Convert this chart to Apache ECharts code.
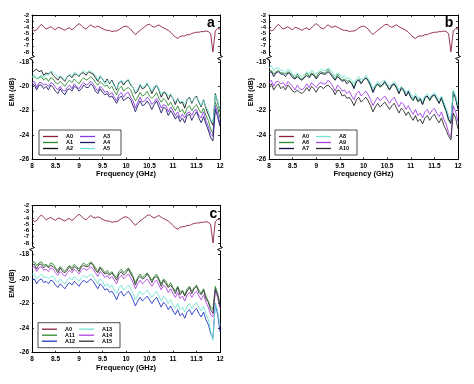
<!DOCTYPE html>
<html><head><meta charset="utf-8">
<script src="https://cdn.jsdelivr.net/npm/echarts@6/dist/echarts.min.js"></script>
<style>html,body{margin:0;padding:0;background:#fff}#c{width:474px;height:384px}</style>
</head><body><div id="c"></div>
<script>
const freq = [8,8.05,8.1,8.15,8.2,8.25,8.3,8.35,8.4,8.45,8.5,8.55,8.6,8.65,8.7,8.75,8.8,8.85,8.9,8.95,9,9.05,9.1,9.15,9.2,9.25,9.3,9.35,9.4,9.45,9.5,9.55,9.6,9.65,9.7,9.75,9.8,9.85,9.9,9.95,10,10.05,10.1,10.15,10.2,10.25,10.3,10.35,10.4,10.45,10.5,10.55,10.6,10.65,10.7,10.75,10.8,10.85,10.9,10.95,11,11.05,11.1,11.15,11.2,11.25,11.3,11.35,11.4,11.45,11.5,11.55,11.6,11.65,11.7,11.75,11.8,11.85,11.9,11.95,12];
const xTicks = [8,8.5,9,9.5,10,10.5,11,11.5,12];
const yTopTicks = [-2,-3,-4,-5,-6,-7,-8];
const yBotTicks = [-26,-24,-22,-20,-18];

const A0 = [-4.2,-4.6,-4.4,-3.9,-3.5,-3.9,-4.3,-4.1,-3.9,-4.2,-4.4,-4.0,-4.1,-4.3,-4.5,-4.2,-4.1,-4.4,-4.1,-3.7,-3.4,-3.7,-4.1,-4.3,-3.9,-3.6,-3.9,-4.0,-3.8,-4.0,-4.2,-4.4,-4.5,-4.5,-4.7,-4.6,-4.6,-4.4,-4.1,-3.9,-3.8,-4.0,-4.3,-4.8,-5.2,-4.8,-4.5,-4.2,-3.9,-3.6,-3.5,-3.8,-4.0,-3.8,-3.6,-3.9,-4.1,-4.3,-4.5,-4.8,-5.2,-5.6,-5.8,-5.5,-5.4,-5.4,-5.2,-5.2,-5.0,-4.9,-4.8,-4.8,-4.7,-4.7,-4.6,-4.7,-5.0,-8.0,-4.6,-4.2,-4.3];
const A1 = [-19.3,-19.2,-19.4,-19.3,-19.2,-19.5,-19.3,-19.6,-19.3,-19.4,-19.7,-19.8,-19.6,-19.8,-20.0,-19.7,-19.5,-19.7,-19.4,-19.6,-19.8,-19.5,-19.3,-19.5,-19.4,-19.2,-19.4,-19.7,-19.9,-19.6,-19.8,-20.0,-19.9,-20.2,-20.0,-20.4,-20.7,-20.2,-20.0,-20.4,-20.2,-20.1,-20.3,-20.8,-21.2,-20.9,-20.5,-20.8,-20.7,-20.4,-20.8,-21.0,-20.8,-20.5,-21.0,-21.3,-21.0,-21.2,-21.6,-21.3,-21.7,-22.0,-21.6,-22.1,-21.9,-22.3,-21.8,-21.6,-22.0,-21.7,-21.5,-21.9,-22.2,-21.8,-22.4,-22.8,-23.5,-23.9,-21.3,-21.8,-22.6];
const A2 = [-18.9,-18.7,-18.6,-18.8,-18.7,-19.1,-18.9,-19.0,-18.8,-19.1,-19.3,-19.5,-19.2,-19.4,-19.6,-19.2,-19.1,-19.3,-19.0,-19.0,-19.2,-18.9,-18.9,-19.1,-18.8,-18.9,-19.0,-19.3,-19.6,-19.2,-19.4,-19.7,-19.4,-19.8,-19.5,-19.9,-20.3,-19.7,-19.6,-19.9,-19.6,-19.5,-19.9,-20.1,-20.6,-20.4,-19.9,-20.2,-20.1,-19.8,-20.1,-20.6,-20.2,-19.9,-20.3,-20.9,-20.5,-20.6,-21.1,-20.7,-21.0,-21.5,-21.0,-21.4,-21.3,-21.8,-21.1,-20.9,-21.4,-21.0,-20.8,-21.3,-21.7,-21.1,-21.8,-22.3,-22.8,-23.2,-20.6,-21.3,-22.1];
const A3 = [-19.7,-19.6,-20.1,-19.7,-19.7,-19.9,-19.8,-20.0,-19.7,-19.8,-20.1,-20.3,-20.0,-20.3,-20.4,-20.1,-19.9,-20.2,-19.8,-20.0,-20.2,-19.9,-19.7,-19.9,-19.8,-19.6,-19.8,-20.1,-20.4,-20.0,-20.2,-20.5,-20.4,-20.7,-20.5,-20.9,-21.2,-20.7,-20.5,-20.9,-20.6,-20.5,-20.9,-21.2,-21.8,-21.3,-20.9,-21.3,-21.2,-20.9,-21.1,-21.5,-21.3,-21.0,-21.3,-21.8,-21.5,-21.6,-22.1,-21.7,-22.0,-22.4,-22.1,-22.6,-22.3,-22.6,-22.2,-22.1,-22.4,-22.0,-21.9,-22.4,-22.6,-22.1,-22.8,-23.3,-23.9,-24.1,-21.6,-22.2,-23.1];
const A4 = [-19.8,-19.9,-20.3,-19.9,-19.9,-20.2,-20.0,-20.3,-19.9,-20.1,-20.4,-20.6,-20.2,-20.5,-20.7,-20.3,-20.2,-20.4,-20.0,-20.1,-20.4,-20.2,-19.9,-20.1,-20.1,-19.8,-20.0,-20.4,-20.6,-20.2,-20.5,-20.7,-20.6,-20.9,-20.8,-21.1,-21.4,-21.0,-20.8,-21.2,-21.0,-20.9,-21.1,-21.6,-22.1,-21.6,-21.2,-21.6,-21.5,-21.2,-21.5,-21.9,-21.5,-21.2,-21.7,-22.2,-21.7,-21.9,-22.4,-22.0,-22.3,-22.7,-22.4,-22.9,-22.6,-23.0,-22.4,-22.3,-22.8,-22.4,-22.1,-22.6,-23.0,-22.5,-23.1,-23.6,-24.2,-24.5,-21.9,-22.5,-23.3];
const A5 = [-19.2,-19.1,-19.4,-19.2,-19.1,-19.3,-19.0,-19.1,-18.8,-18.8,-19.0,-19.3,-19.1,-19.3,-19.5,-19.2,-19.0,-19.2,-18.8,-19.0,-19.1,-18.9,-18.7,-18.9,-18.8,-18.7,-18.9,-19.1,-19.5,-19.1,-19.4,-19.8,-19.5,-19.7,-19.6,-20.0,-20.2,-19.8,-19.5,-19.7,-19.6,-19.4,-19.8,-20.1,-20.5,-20.2,-19.8,-20.1,-20.0,-19.7,-20.1,-20.4,-20.0,-19.9,-20.2,-20.7,-20.4,-20.5,-20.8,-20.6,-21.0,-21.3,-21.0,-21.3,-21.2,-21.5,-21.1,-21.0,-21.3,-21.0,-20.9,-21.2,-21.6,-21.1,-21.7,-22.0,-22.7,-23.0,-20.7,-21.2,-22.0];
const A6 = [-18.8,-18.7,-19.0,-18.8,-18.7,-18.9,-18.9,-19.0,-18.8,-18.9,-19.1,-19.4,-19.0,-19.3,-19.4,-19.2,-18.9,-19.2,-18.9,-19.0,-19.3,-18.9,-18.8,-18.9,-18.9,-18.6,-18.9,-19.1,-19.5,-19.0,-19.3,-19.5,-19.4,-19.6,-19.5,-19.7,-20.1,-19.6,-19.4,-19.7,-19.5,-19.3,-19.6,-20.0,-20.5,-20.1,-19.8,-20.1,-19.9,-19.7,-20.0,-20.3,-20.0,-19.8,-20.2,-20.6,-20.2,-20.4,-20.8,-20.5,-20.9,-21.2,-20.8,-21.3,-21.1,-21.5,-21.0,-20.8,-21.2,-20.9,-20.7,-21.1,-21.4,-21.0,-21.6,-22.1,-22.8,-23.1,-20.6,-21.0,-21.8];
const A7 = [-18.9,-18.8,-19.2,-18.9,-18.8,-19.0,-19.0,-19.2,-18.9,-19.0,-19.3,-19.4,-19.2,-19.4,-19.5,-19.3,-19.1,-19.3,-19.0,-19.1,-19.4,-19.1,-18.9,-19.0,-19.0,-18.8,-19.0,-19.3,-19.5,-19.2,-19.4,-19.6,-19.5,-19.8,-19.6,-19.8,-20.2,-19.6,-19.5,-19.8,-19.5,-19.3,-19.5,-19.9,-20.5,-20.0,-19.8,-20.0,-19.9,-19.6,-19.9,-20.3,-19.9,-19.8,-20.1,-20.6,-20.1,-20.3,-20.8,-20.4,-20.9,-21.1,-20.8,-21.2,-21.0,-21.5,-20.9,-20.8,-21.1,-20.8,-20.7,-21.0,-21.4,-20.9,-21.5,-22.0,-22.7,-23.0,-20.4,-21.0,-21.9];
const A8 = [-18.5,-18.3,-18.7,-18.5,-18.5,-18.7,-18.7,-18.9,-18.6,-18.7,-19.0,-19.2,-18.9,-19.1,-19.2,-19.0,-18.8,-19.0,-18.7,-18.8,-19.0,-18.8,-18.6,-18.7,-18.7,-18.5,-18.6,-18.9,-19.2,-18.9,-19.0,-19.3,-19.1,-19.4,-19.3,-19.5,-19.8,-19.4,-19.2,-19.5,-19.3,-19.1,-19.4,-19.7,-20.2,-19.9,-19.6,-19.9,-19.6,-19.5,-19.8,-20.0,-19.8,-19.6,-19.9,-20.3,-20.0,-20.2,-20.5,-20.3,-20.6,-21.0,-20.6,-21.0,-20.9,-21.2,-20.8,-20.6,-20.9,-20.7,-20.5,-20.8,-21.1,-20.8,-21.3,-21.8,-22.4,-22.7,-20.3,-20.8,-21.6];
const A9 = [-19.7,-19.5,-20.0,-19.6,-19.6,-19.8,-19.7,-20.0,-19.6,-19.8,-20.0,-20.3,-19.9,-20.2,-20.3,-20.1,-19.8,-20.1,-19.7,-19.9,-20.1,-19.8,-19.7,-19.8,-19.8,-19.5,-19.7,-20.0,-20.4,-19.9,-20.1,-20.4,-20.3,-20.6,-20.4,-20.8,-21.1,-20.6,-20.4,-20.8,-20.6,-20.4,-20.7,-21.1,-21.6,-21.2,-20.9,-21.2,-21.0,-20.8,-21.1,-21.4,-21.1,-20.9,-21.3,-21.7,-21.3,-21.5,-21.9,-21.6,-22.0,-22.3,-21.9,-22.4,-22.2,-22.6,-22.1,-21.9,-22.3,-22.0,-21.8,-22.2,-22.5,-22.1,-22.7,-23.1,-23.8,-24.2,-21.6,-22.1,-22.9];
const A10 = [-20.0,-19.8,-20.3,-20.0,-19.8,-20.2,-20.0,-20.3,-19.9,-20.1,-20.4,-20.5,-20.3,-20.5,-20.6,-20.4,-20.1,-20.4,-20.0,-20.2,-20.5,-20.1,-20.0,-20.2,-20.0,-19.9,-20.1,-20.3,-20.7,-20.3,-20.4,-20.8,-20.7,-21.0,-20.9,-21.2,-21.6,-21.1,-20.9,-21.3,-21.1,-20.9,-21.2,-21.6,-22.1,-21.7,-21.4,-21.7,-21.5,-21.3,-21.6,-21.9,-21.6,-21.4,-21.8,-22.2,-21.8,-22.0,-22.4,-22.1,-22.5,-22.8,-22.4,-22.9,-22.7,-23.1,-22.6,-22.4,-22.8,-22.5,-22.3,-22.7,-23.0,-22.6,-23.2,-23.6,-24.1,-24.4,-22.2,-22.6,-23.5];
const A11 = [-18.7,-18.6,-18.9,-18.7,-18.6,-18.9,-18.8,-19.0,-18.7,-18.8,-19.1,-19.3,-19.0,-19.2,-19.4,-19.1,-18.9,-19.1,-18.8,-19.0,-19.2,-18.9,-18.7,-18.9,-18.8,-18.6,-18.8,-19.1,-19.4,-19.0,-19.2,-19.5,-19.3,-19.6,-19.4,-19.7,-19.9,-19.4,-19.2,-19.5,-19.3,-19.1,-19.4,-19.8,-20.3,-19.9,-19.6,-19.9,-19.7,-19.5,-19.8,-20.1,-19.8,-19.6,-20.0,-20.4,-20.0,-20.2,-20.6,-20.3,-20.7,-21.0,-20.6,-21.1,-20.9,-21.3,-20.8,-20.6,-21.0,-20.7,-20.5,-20.9,-21.2,-20.8,-21.4,-21.8,-22.3,-22.5,-20.6,-21.2,-22.0];
const A12 = [-20.1,-20.0,-20.4,-20.1,-20.0,-20.3,-20.2,-20.4,-20.1,-20.2,-20.5,-20.7,-20.4,-20.6,-20.8,-20.5,-20.3,-20.5,-20.2,-20.4,-20.6,-20.3,-20.1,-20.3,-20.2,-20.0,-20.2,-20.5,-20.8,-20.4,-20.6,-20.9,-20.8,-21.1,-21.0,-21.3,-21.7,-21.2,-21.0,-21.4,-21.2,-21.0,-21.3,-21.7,-22.2,-21.8,-21.5,-21.8,-21.6,-21.4,-21.7,-22.0,-21.7,-21.5,-21.9,-22.3,-21.9,-22.1,-22.5,-22.2,-22.6,-22.9,-22.5,-23.0,-22.8,-23.2,-22.7,-22.5,-22.9,-22.6,-22.4,-22.8,-23.1,-22.7,-23.3,-23.7,-24.4,-24.8,-22.0,-22.9,-24.3];
const A13 = [-19.6,-19.6,-20.0,-19.8,-19.6,-19.9,-19.8,-20.0,-19.8,-19.8,-20.1,-20.3,-20.0,-20.2,-20.4,-20.1,-19.9,-20.1,-19.8,-20.0,-20.2,-19.9,-19.7,-19.9,-19.8,-19.6,-19.8,-20.1,-20.4,-20.0,-20.2,-20.6,-20.4,-20.7,-20.5,-20.9,-21.2,-20.7,-20.5,-20.9,-20.7,-20.5,-20.8,-21.2,-21.7,-21.3,-21.0,-21.3,-21.1,-20.9,-21.2,-21.5,-21.2,-21.0,-21.4,-21.8,-21.4,-21.6,-22.0,-21.7,-22.1,-22.4,-22.0,-22.5,-22.3,-22.7,-22.2,-22.0,-22.4,-22.1,-21.9,-22.3,-22.6,-22.2,-22.8,-23.3,-24.2,-25.0,-22.0,-22.6,-23.8];
const A14 = [-19.1,-19.0,-19.4,-19.1,-19.0,-19.3,-19.2,-19.4,-19.1,-19.2,-19.5,-19.7,-19.4,-19.6,-19.8,-19.5,-19.3,-19.5,-19.2,-19.4,-19.6,-19.3,-19.1,-19.3,-19.2,-19.0,-19.2,-19.5,-19.8,-19.4,-19.6,-19.9,-19.7,-20.0,-19.8,-20.1,-20.4,-19.9,-19.7,-20.0,-19.8,-19.6,-19.9,-20.3,-20.8,-20.4,-20.1,-20.4,-20.2,-20.0,-20.3,-20.6,-20.3,-20.1,-20.5,-20.9,-20.5,-20.7,-21.1,-20.8,-21.2,-21.5,-21.1,-21.6,-21.4,-21.8,-21.3,-21.1,-21.5,-21.2,-21.0,-21.4,-21.7,-21.3,-21.9,-22.3,-22.9,-23.1,-21.0,-21.5,-22.4];
const A15 = [-18.9,-18.8,-19.2,-18.8,-18.8,-19.1,-18.9,-19.1,-18.9,-19.0,-19.2,-19.5,-19.1,-19.4,-19.5,-19.3,-19.0,-19.3,-19.0,-19.1,-19.4,-19.0,-18.9,-19.0,-19.0,-18.7,-18.9,-19.3,-19.5,-19.1,-19.4,-19.6,-19.5,-19.7,-19.5,-19.8,-20.1,-19.6,-19.4,-19.7,-19.5,-19.2,-19.6,-19.9,-20.5,-20.0,-19.8,-20.0,-19.9,-19.6,-19.9,-20.3,-19.9,-19.8,-20.1,-20.6,-20.1,-20.4,-20.7,-20.5,-20.8,-21.2,-20.7,-21.3,-21.0,-21.4,-21.0,-20.7,-21.2,-20.8,-20.6,-21.1,-21.3,-20.9,-21.6,-21.9,-22.5,-22.8,-20.8,-21.3,-22.2];

const DATA = {A0,A1,A2,A3,A4,A5,A6,A7,A8,A9,A10,A11,A12,A13,A14,A15};
const COLORS = {
  A0:'#8c1f3c', A1:'#2e8b2e', A2:'#111111', A3:'#8a3be0', A4:'#1c1c66', A5:'#6fe4d4',
  A6:'#2e8b2e', A7:'#10104a', A8:'#6fe4d4', A9:'#a443e6', A10:'#2a2a2a',
  A11:'#2e8b2e', A12:'#2436c8', A13:'#6fe4d4', A14:'#b044e0', A15:'#333333'
};

const FONT = '"Liberation Sans", Arial, sans-serif';
const panels = [
  {letter:'a', left:32, width:188, topT:15, hT:40, topB:60, hB:99.3, maxB:-17.84, nameGap:10.5,
   names:['A0','A1','A2','A3','A4','A5'], lg:[39,130], lt:[211,23], yn:[12,92]},
  {letter:'b', left:269, width:189, topT:15, hT:40, topB:60, hB:99.3, maxB:-17.84, nameGap:10.5,
   names:['A0','A6','A7','A8','A9','A10'], lg:[275,130], lt:[449,23.5], yn:[251,92]},
  {letter:'c', left:32, width:188, topT:205.5, hT:40.5, topB:251, hB:101.7, maxB:-17.73, nameGap:11,
   names:['A0','A11','A12','A13','A14','A15'], lg:[38,322.7], lt:[213.5,214.5], yn:[12,283.5]}
];

function xCfg(g, pos, labels, gap){
  return {type:'value', gridIndex:g, position:pos, min:8, max:12, interval:0.5,
    axisLine:{show:true, onZero:false, lineStyle:{color:'#000', width:1}},
    axisTick:{show:true, inside:true, length:2, lineStyle:{color:'#000', width:0.8}},
    axisLabel:{show:labels, margin:3, fontSize:6.5, fontWeight:'bold', color:'#000', fontFamily:FONT,
      showMinLabel:true, showMaxLabel:true},
    splitLine:{show:false},
    name: labels ? 'Frequency (GHz)' : '', nameLocation:'middle', nameGap:gap,
    nameTextStyle:{fontSize:7.5, fontWeight:'bold', color:'#000', fontFamily:FONT}};
}
function yCfg(g, pos, labels, min, max, ticks, fs){
  return {type:'value', gridIndex:g, position:pos, min:min, max:max,
    axisLine:{show:true, onZero:false, lineStyle:{color:'#000', width:1}},
    axisTick:{show:true, inside:true, length:2, customValues:ticks, lineStyle:{color:'#000', width:0.8}},
    axisLabel:{show:labels, margin:3, customValues:ticks, fontSize:fs, fontWeight:'bold', color:'#000',
      fontFamily:FONT, showMinLabel:true, showMaxLabel:true, hideOverlap:false, lineHeight:fs},
    splitLine:{show:false}};
}

const grid=[], xAxis=[], yAxis=[], series=[], legend=[], graphic=[];
panels.forEach(p=>{
  const gT = grid.length; grid.push({left:p.left, top:p.topT, width:p.width, height:p.hT});
  const gB = grid.length; grid.push({left:p.left, top:p.topB, width:p.width, height:p.hB});
  const xT = xAxis.length; xAxis.push(xCfg(gT,'top',false,0));
  const xB = xAxis.length; xAxis.push(xCfg(gB,'bottom',true,p.nameGap));
  const yT = yAxis.length; yAxis.push(yCfg(gT,'left',true,-8.5,-2,yTopTicks,6));
  yAxis.push(yCfg(gT,'right',false,-8.5,-2,yTopTicks,6));
  const yB = yAxis.length; yAxis.push(yCfg(gB,'left',true,-26,p.maxB,yBotTicks,6.5));
  yAxis.push(yCfg(gB,'right',false,-26,p.maxB,yBotTicks,6.5));
  p.names.forEach(name=>{
    const top = name==='A0';
    series.push({type:'line', name:name, xAxisIndex: top?xT:xB, yAxisIndex: top?yT:yB,
      data: freq.map((f,i)=>[f, DATA[name][i]]), symbol:'none', showSymbol:false,
      lineStyle:{width:0.9, color:COLORS[name]}, itemStyle:{color:COLORS[name]},
      animation:false, silent:true, z:2});
  });
  const s = p.names;
  legend.push({left:p.lg[0], top:p.lg[1], width:76, orient:'horizontal', icon:'rect',
    data:[s[0],s[3],s[1],s[4],s[2],s[5]], itemWidth:15, itemHeight:1.3, itemGap:0,
    padding:[3.5,4], borderColor:'#222', borderWidth:0.8, backgroundColor:'#fff',
    selectedMode:false,
    textStyle:{fontSize:5.5, fontWeight:'bold', fontFamily:FONT, color:'#000', lineHeight:5.7, height:5.7, width:14, padding:[0,0,0,3]}});
  graphic.push({type:'text', x:p.yn[0], y:p.yn[1], rotation:Math.PI/2,
    style:{text:'EMI (dB)', font:'bold 7px '+FONT, fill:'#000', align:'center', verticalAlign:'middle'}});
  graphic.push({type:'text', x:p.lt[0], y:p.lt[1],
    style:{text:p.letter, font:'bold 14px '+FONT, fill:'#000', align:'center', verticalAlign:'middle'}});
  const y1 = p.topT + p.hT, y2 = p.topB;
  [p.left, p.left + p.width].forEach(x=>{
    graphic.push({type:'polyline', shape:{points:[[x,y1],[x+2.5,y1+(y2-y1)*0.3],[x-2.5,y1+(y2-y1)*0.7],[x,y2]]},
      style:{stroke:'#000', lineWidth:1, fill:null}});
  });
});

const chart = echarts.init(document.getElementById('c'), null, {renderer:'canvas'});
chart.setOption({backgroundColor:'#fff', animation:false, grid, xAxis, yAxis, series, legend, graphic});
</script>
</body></html>
